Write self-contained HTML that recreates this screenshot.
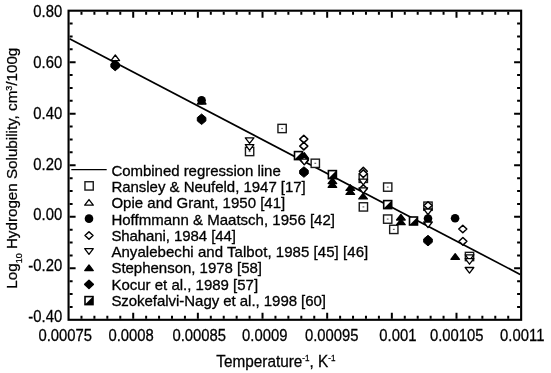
<!DOCTYPE html>
<html><head><meta charset="utf-8"><style>html,body{margin:0;padding:0;background:#fff;width:551px;height:373px;overflow:hidden}svg{display:block}</style></head>
<body><svg width="551" height="373" viewBox="0 0 551 373"><path d="M81.48 318.75V315.75M81.48 11.75V14.75M94.41 318.75V315.75M94.41 11.75V14.75M107.34 318.75V315.75M107.34 11.75V14.75M120.28 318.75V315.75M120.28 11.75V14.75M133.21 318.75V312.75M133.21 11.75V17.75M146.14 318.75V315.75M146.14 11.75V14.75M159.07 318.75V315.75M159.07 11.75V14.75M172.00 318.75V315.75M172.00 11.75V14.75M184.93 318.75V315.75M184.93 11.75V14.75M197.86 318.75V312.75M197.86 11.75V17.75M210.80 318.75V315.75M210.80 11.75V14.75M223.73 318.75V315.75M223.73 11.75V14.75M236.66 318.75V315.75M236.66 11.75V14.75M249.59 318.75V315.75M249.59 11.75V14.75M262.52 318.75V312.75M262.52 11.75V17.75M275.45 318.75V315.75M275.45 11.75V14.75M288.38 318.75V315.75M288.38 11.75V14.75M301.32 318.75V315.75M301.32 11.75V14.75M314.25 318.75V315.75M314.25 11.75V14.75M327.18 318.75V312.75M327.18 11.75V17.75M340.11 318.75V315.75M340.11 11.75V14.75M353.04 318.75V315.75M353.04 11.75V14.75M365.97 318.75V315.75M365.97 11.75V14.75M378.90 318.75V315.75M378.90 11.75V14.75M391.84 318.75V312.75M391.84 11.75V17.75M404.77 318.75V315.75M404.77 11.75V14.75M417.70 318.75V315.75M417.70 11.75V14.75M430.63 318.75V315.75M430.63 11.75V14.75M443.56 318.75V315.75M443.56 11.75V14.75M456.49 318.75V312.75M456.49 11.75V17.75M469.42 318.75V315.75M469.42 11.75V14.75M482.36 318.75V315.75M482.36 11.75V14.75M495.29 318.75V315.75M495.29 11.75V14.75M508.22 318.75V315.75M508.22 11.75V14.75M69.60 306.92H72.60M520.10 306.92H517.10M69.60 294.04H72.60M520.10 294.04H517.10M69.60 281.16H72.60M520.10 281.16H517.10M69.60 268.28H75.60M520.10 268.28H514.10M69.60 255.40H72.60M520.10 255.40H517.10M69.60 242.52H72.60M520.10 242.52H517.10M69.60 229.65H72.60M520.10 229.65H517.10M69.60 216.77H75.60M520.10 216.77H514.10M69.60 203.89H72.60M520.10 203.89H517.10M69.60 191.01H72.60M520.10 191.01H517.10M69.60 178.13H72.60M520.10 178.13H517.10M69.60 165.25H75.60M520.10 165.25H514.10M69.60 152.37H72.60M520.10 152.37H517.10M69.60 139.49H72.60M520.10 139.49H517.10M69.60 126.61H72.60M520.10 126.61H517.10M69.60 113.73H75.60M520.10 113.73H514.10M69.60 100.85H72.60M520.10 100.85H517.10M69.60 87.97H72.60M520.10 87.97H517.10M69.60 75.10H72.60M520.10 75.10H517.10M69.60 62.22H75.60M520.10 62.22H514.10M69.60 49.34H72.60M520.10 49.34H517.10M69.60 36.46H72.60M520.10 36.46H517.10M69.60 23.58H72.60M520.10 23.58H517.10" stroke="#000" stroke-width="2" fill="none"/><rect x="68.55" y="10.7" width="452.60" height="309.10" fill="none" stroke="#000" stroke-width="2.1"/><line x1="69.55" y1="38.78" x2="520.15" y2="274.43" stroke="#000" stroke-width="1.7"/><g font-family="Liberation Sans, Arial, sans-serif" font-size="15" fill="#000" stroke="#000" stroke-width="0.25"><text transform="translate(62.2 17.20) scale(0.99 1.05)" text-anchor="end">0.80</text><text transform="translate(62.2 68.02) scale(0.99 1.05)" text-anchor="end">0.60</text><text transform="translate(62.2 118.84) scale(0.99 1.05)" text-anchor="end">0.40</text><text transform="translate(62.2 169.66) scale(0.99 1.05)" text-anchor="end">0.20</text><text transform="translate(62.2 220.48) scale(0.99 1.05)" text-anchor="end">0.00</text><text transform="translate(62.2 271.30) scale(0.99 1.05)" text-anchor="end">-0.20</text><text transform="translate(62.2 322.12) scale(0.99 1.05)" text-anchor="end">-0.40</text><text transform="translate(65.25 341.1) scale(0.99 1.05)" text-anchor="middle">0.00075</text><text transform="translate(131.16 341.1) scale(0.99 1.05)" text-anchor="middle">0.0008</text><text transform="translate(199.26 341.1) scale(0.99 1.05)" text-anchor="middle">0.00085</text><text transform="translate(264.72 341.1) scale(0.99 1.05)" text-anchor="middle">0.0009</text><text transform="translate(331.73 341.1) scale(0.99 1.05)" text-anchor="middle">0.00095</text><text transform="translate(397.84 341.1) scale(0.99 1.05)" text-anchor="middle">0.001</text><text transform="translate(456.74 341.1) scale(0.99 1.05)" text-anchor="middle">0.00105</text><text transform="translate(522.25 341.1) scale(0.99 1.05)" text-anchor="middle">0.0011</text></g><text transform="translate(216.3 366.7) scale(1 1.06)" font-family="Liberation Sans, Arial, sans-serif" font-size="15.35" stroke="#000" stroke-width="0.25">Temperature<tspan font-size="8.1" dy="-5.4">-1</tspan><tspan dy="5.4">, K</tspan><tspan font-size="8.1" dy="-5.4">-1</tspan></text><text transform="translate(16.9 288.7) rotate(-90)" font-family="Liberation Sans, Arial, sans-serif" font-size="15.2" stroke="#000" stroke-width="0.25">Log<tspan font-size="9" dy="5.3">10</tspan><tspan dy="-5.3"> Hydrogen Solubility, cm</tspan><tspan font-size="9" dy="-5.3">3</tspan><tspan dy="5.3">/100g</tspan></text><path d="M115.30 55.00L119.60 60.60L111.00 60.60Z" fill="#fff" stroke="#000" stroke-width="1.3" stroke-linejoin="round"/><circle cx="115.20" cy="65.00" r="4.3" fill="#000"/><path d="M115.20 60.25L119.50 63.80L119.50 67.20L115.20 70.75L110.90 67.20L110.90 63.80Z" fill="#000" stroke="#000" stroke-width="1.0" stroke-linejoin="round"/><path d="M201.70 98.40L206.00 104.00L197.40 104.00Z" fill="#fff" stroke="#000" stroke-width="1.3" stroke-linejoin="round"/><circle cx="201.60" cy="100.20" r="4.3" fill="#000"/><path d="M201.60 114.00L205.90 117.55L205.90 120.95L201.60 124.50L197.30 120.95L197.30 117.55Z" fill="#000" stroke="#000" stroke-width="1.0" stroke-linejoin="round"/><path d="M249.60 143.40L253.90 137.80L245.30 137.80Z" fill="#fff" stroke="#000" stroke-width="1.3" stroke-linejoin="round"/><rect x="245.45" y="147.35" width="8.3" height="8.3" fill="#fff" stroke="#1a1a1a" stroke-width="1.4"/><rect x="248.70" y="150.90" width="1.8" height="1.2" fill="#666"/><path d="M249.60 150.30L253.90 144.70L245.30 144.70Z" fill="#fff" stroke="#000" stroke-width="1.3" stroke-linejoin="round"/><rect x="277.95" y="124.35" width="8.3" height="8.3" fill="#fff" stroke="#1a1a1a" stroke-width="1.4"/><rect x="281.20" y="127.90" width="1.8" height="1.2" fill="#666"/><path d="M303.80 135.30L307.80 139.10L303.80 142.90L299.80 139.10Z" fill="#fff" stroke="#000" stroke-width="1.5" stroke-linejoin="round"/><path d="M303.80 142.30L307.80 146.10L303.80 149.90L299.80 146.10Z" fill="#fff" stroke="#000" stroke-width="1.5" stroke-linejoin="round"/><rect x="294.50" y="151.60" width="8.0" height="8.0" fill="#fff" stroke="#000" stroke-width="1.6"/><path d="M302.50 151.60L302.50 159.60L294.50 159.60Z" fill="#000"/><path d="M304.30 152.70L308.60 158.30L300.00 158.30Z" fill="#000" stroke="#000" stroke-width="1.3" stroke-linejoin="round"/><path d="M304.30 156.70L308.30 160.50L304.30 164.30L300.30 160.50Z" fill="#fff" stroke="#000" stroke-width="1.5" stroke-linejoin="round"/><path d="M304.30 164.80L308.60 159.20L300.00 159.20Z" fill="#fff" stroke="#000" stroke-width="1.3" stroke-linejoin="round"/><path d="M303.95 166.80L308.25 170.35L308.25 173.75L303.95 177.30L299.65 173.75L299.65 170.35Z" fill="#000" stroke="#000" stroke-width="1.0" stroke-linejoin="round"/><rect x="311.15" y="159.15" width="8.3" height="8.3" fill="#fff" stroke="#1a1a1a" stroke-width="1.4"/><rect x="314.40" y="162.70" width="1.8" height="1.2" fill="#666"/><rect x="328.40" y="170.60" width="8.0" height="8.0" fill="#fff" stroke="#000" stroke-width="1.6"/><path d="M336.40 170.60L336.40 178.60L328.40 178.60Z" fill="#000"/><path d="M332.40 178.00L336.70 183.60L328.10 183.60Z" fill="#000" stroke="#000" stroke-width="1.3" stroke-linejoin="round"/><path d="M332.40 181.70L336.70 187.30L328.10 187.30Z" fill="#000" stroke="#000" stroke-width="1.3" stroke-linejoin="round"/><path d="M350.30 184.80L354.60 190.40L346.00 190.40Z" fill="#000" stroke="#000" stroke-width="1.3" stroke-linejoin="round"/><path d="M350.30 188.80L354.60 194.40L346.00 194.40Z" fill="#000" stroke="#000" stroke-width="1.3" stroke-linejoin="round"/><rect x="359.15" y="174.15" width="8.3" height="8.3" fill="#fff" stroke="#1a1a1a" stroke-width="1.4"/><rect x="362.40" y="177.70" width="1.8" height="1.2" fill="#666"/><path d="M363.30 167.40L367.30 171.20L363.30 175.00L359.30 171.20Z" fill="#fff" stroke="#000" stroke-width="1.5" stroke-linejoin="round"/><path d="M363.30 169.90L367.30 173.70L363.30 177.50L359.30 173.70Z" fill="#fff" stroke="#000" stroke-width="1.5" stroke-linejoin="round"/><path d="M363.30 184.80L367.60 179.20L359.00 179.20Z" fill="#fff" stroke="#000" stroke-width="1.3" stroke-linejoin="round"/><path d="M363.30 184.80L367.30 188.60L363.30 192.40L359.30 188.60Z" fill="#fff" stroke="#000" stroke-width="1.5" stroke-linejoin="round"/><path d="M363.30 193.40L367.60 187.80L359.00 187.80Z" fill="#fff" stroke="#000" stroke-width="1.3" stroke-linejoin="round"/><path d="M363.10 193.30L367.40 198.90L358.80 198.90Z" fill="#000" stroke="#000" stroke-width="1.3" stroke-linejoin="round"/><rect x="359.25" y="202.75" width="8.3" height="8.3" fill="#fff" stroke="#1a1a1a" stroke-width="1.4"/><rect x="362.50" y="206.30" width="1.8" height="1.2" fill="#666"/><rect x="383.55" y="182.95" width="8.3" height="8.3" fill="#fff" stroke="#1a1a1a" stroke-width="1.4"/><rect x="386.80" y="186.50" width="1.8" height="1.2" fill="#666"/><rect x="383.70" y="200.60" width="8.0" height="8.0" fill="#fff" stroke="#000" stroke-width="1.6"/><path d="M391.70 200.60L391.70 208.60L383.70 208.60Z" fill="#000"/><rect x="383.55" y="214.95" width="8.3" height="8.3" fill="#fff" stroke="#1a1a1a" stroke-width="1.4"/><rect x="386.80" y="218.50" width="1.8" height="1.2" fill="#666"/><rect x="389.65" y="225.25" width="8.3" height="8.3" fill="#fff" stroke="#1a1a1a" stroke-width="1.4"/><rect x="392.90" y="228.80" width="1.8" height="1.2" fill="#666"/><path d="M400.90 214.40L405.20 220.00L396.60 220.00Z" fill="#000" stroke="#000" stroke-width="1.3" stroke-linejoin="round"/><path d="M400.90 219.10L405.20 224.70L396.60 224.70Z" fill="#000" stroke="#000" stroke-width="1.3" stroke-linejoin="round"/><rect x="409.50" y="217.00" width="8.0" height="8.0" fill="#fff" stroke="#000" stroke-width="1.6"/><path d="M417.50 217.00L417.50 225.00L409.50 225.00Z" fill="#000"/><rect x="423.85" y="202.05" width="8.3" height="8.3" fill="#fff" stroke="#1a1a1a" stroke-width="1.4"/><rect x="427.10" y="205.60" width="1.8" height="1.2" fill="#666"/><path d="M428.00 201.70L432.00 205.50L428.00 209.30L424.00 205.50Z" fill="#fff" stroke="#000" stroke-width="1.5" stroke-linejoin="round"/><path d="M428.00 214.60L432.30 209.00L423.70 209.00Z" fill="#fff" stroke="#000" stroke-width="1.3" stroke-linejoin="round"/><circle cx="428.00" cy="218.60" r="4.3" fill="#000"/><path d="M428.00 227.60L432.30 222.00L423.70 222.00Z" fill="#fff" stroke="#000" stroke-width="1.3" stroke-linejoin="round"/><path d="M428.00 235.35L432.30 238.90L432.30 242.30L428.00 245.85L423.70 242.30L423.70 238.90Z" fill="#000" stroke="#000" stroke-width="1.0" stroke-linejoin="round"/><circle cx="455.10" cy="218.30" r="4.3" fill="#000"/><path d="M462.80 225.20L466.80 229.00L462.80 232.80L458.80 229.00Z" fill="#fff" stroke="#000" stroke-width="1.5" stroke-linejoin="round"/><path d="M462.90 237.50L466.90 241.30L462.90 245.10L458.90 241.30Z" fill="#fff" stroke="#000" stroke-width="1.5" stroke-linejoin="round"/><path d="M455.20 253.70L459.50 259.30L450.90 259.30Z" fill="#000" stroke="#000" stroke-width="1.3" stroke-linejoin="round"/><rect x="465.35" y="252.35" width="8.3" height="8.3" fill="#fff" stroke="#1a1a1a" stroke-width="1.4"/><rect x="468.60" y="255.90" width="1.8" height="1.2" fill="#666"/><path d="M469.50 260.40L473.80 254.80L465.20 254.80Z" fill="#fff" stroke="#000" stroke-width="1.3" stroke-linejoin="round"/><path d="M469.50 264.20L473.80 258.60L465.20 258.60Z" fill="#fff" stroke="#000" stroke-width="1.3" stroke-linejoin="round"/><path d="M469.50 273.10L473.80 267.50L465.20 267.50Z" fill="#fff" stroke="#000" stroke-width="1.3" stroke-linejoin="round"/><line x1="71.3" y1="169.6" x2="106.7" y2="169.6" stroke="#000" stroke-width="1.4"/><rect x="84.95" y="181.75" width="8.3" height="8.3" fill="#fff" stroke="#1a1a1a" stroke-width="1.4"/><path d="M89.00 199.55L93.30 205.15L84.70 205.15Z" fill="#fff" stroke="#000" stroke-width="1.3" stroke-linejoin="round"/><circle cx="89.00" cy="218.65" r="4.3" fill="#000"/><path d="M89.00 231.70L93.00 235.50L89.00 239.30L85.00 235.50Z" fill="#fff" stroke="#000" stroke-width="1.5" stroke-linejoin="round"/><path d="M89.00 254.30L93.30 248.70L84.70 248.70Z" fill="#fff" stroke="#000" stroke-width="1.3" stroke-linejoin="round"/><path d="M89.00 264.95L93.30 270.55L84.70 270.55Z" fill="#000" stroke="#000" stroke-width="1.3" stroke-linejoin="round"/><path d="M89.00 280.40L93.30 284.40L89.00 288.40L84.70 284.40Z" fill="#000" stroke="#000" stroke-width="1.5" stroke-linejoin="round"/><rect x="85.00" y="296.60" width="8.0" height="8.0" fill="#fff" stroke="#000" stroke-width="1.6"/><path d="M93.00 296.60L93.00 304.60L85.00 304.60Z" fill="#000"/><g font-family="Liberation Sans, Arial, sans-serif" font-size="15" fill="#000" stroke="#000" stroke-width="0.3"><text x="111.4" y="175.90" textLength="169.36" lengthAdjust="spacing">Combined regression line</text><text x="111.4" y="192.15" textLength="194.36" lengthAdjust="spacing">Ransley &amp; Neufeld, 1947 [17]</text><text x="111.4" y="208.40" textLength="173.85" lengthAdjust="spacing">Opie and Grant, 1950 [41]</text><text x="111.4" y="224.65" textLength="223.58" lengthAdjust="spacing">Hoffmmann &amp; Maatsch, 1956 [42]</text><text x="111.4" y="240.90" textLength="124.53" lengthAdjust="spacing">Shahani, 1984 [44]</text><text x="111.4" y="257.15" textLength="256.82" lengthAdjust="spacing">Anyalebechi and Talbot, 1985 [45] [46]</text><text x="111.4" y="273.40" textLength="150.61" lengthAdjust="spacing">Stephenson, 1978 [58]</text><text x="111.4" y="289.65" textLength="146.69" lengthAdjust="spacing">Kocur et al., 1989 [57]</text><text x="111.4" y="305.90" textLength="214.61" lengthAdjust="spacing">Szokefalvi-Nagy et al., 1998 [60]</text></g></svg></body></html>
